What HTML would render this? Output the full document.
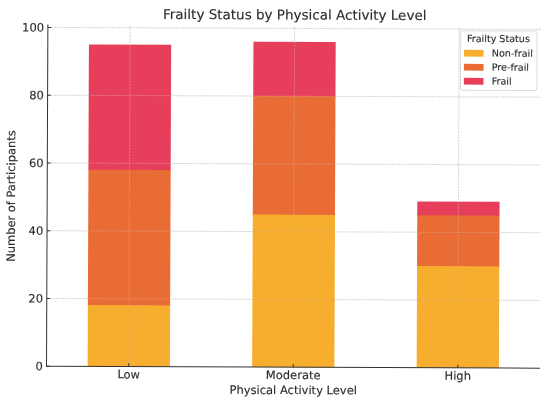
<!DOCTYPE html>
<html lang="en"><head><meta charset="utf-8"><title>Frailty Status by Physical Activity Level</title>
<style>html,body{margin:0;padding:0;background:#fff;overflow:hidden;}svg{display:block;}text{font-family:"DejaVu Sans","Liberation Sans",sans-serif;fill:#2c2c2c;stroke:#2c2c2c;stroke-width:0.14px;stroke-linejoin:round;}</style></head><body>
<svg width="550" height="402" viewBox="0 0 550 402">
<rect x="0" y="0" width="550" height="402" fill="#ffffff"/>
<g transform="rotate(0.230 275 201)">
<rect x="88.30" y="45.29" width="82.25" height="125.89" fill="#E63E5B"/>
<rect x="88.30" y="170.48" width="82.25" height="136.05" fill="#EA6C35"/>
<rect x="88.30" y="305.83" width="82.25" height="61.32" fill="#F7AE2F"/>
<rect x="252.81" y="41.73" width="82.25" height="55.08" fill="#E63E5B"/>
<rect x="252.81" y="96.11" width="82.25" height="119.28" fill="#EA6C35"/>
<rect x="252.81" y="214.69" width="82.25" height="152.46" fill="#F7AE2F"/>
<rect x="417.32" y="200.97" width="82.25" height="14.42" fill="#E63E5B"/>
<rect x="417.32" y="214.69" width="82.25" height="51.52" fill="#EA6C35"/>
<rect x="417.32" y="265.51" width="82.25" height="101.64" fill="#F7AE2F"/>
<g style="mix-blend-mode:luminosity">
<line x1="47.17" y1="299.39" x2="540.70" y2="299.39" stroke="#b4b4b4" stroke-width="0.75" stroke-dasharray="2.1 0.95" stroke-opacity="0.55"/>
<line x1="47.17" y1="231.63" x2="540.70" y2="231.63" stroke="#b4b4b4" stroke-width="0.75" stroke-dasharray="2.1 0.95" stroke-opacity="0.55"/>
<line x1="47.17" y1="163.87" x2="540.70" y2="163.87" stroke="#b4b4b4" stroke-width="0.75" stroke-dasharray="2.1 0.95" stroke-opacity="0.55"/>
<line x1="47.17" y1="96.11" x2="540.70" y2="96.11" stroke="#b4b4b4" stroke-width="0.75" stroke-dasharray="2.1 0.95" stroke-opacity="0.55"/>
<line x1="47.17" y1="28.35" x2="540.70" y2="28.35" stroke="#b4b4b4" stroke-width="0.75" stroke-dasharray="2.1 0.95" stroke-opacity="0.55"/>
<line x1="129.43" y1="367.15" x2="129.43" y2="25.40" stroke="#b4b4b4" stroke-width="0.75" stroke-dasharray="2.1 0.95" stroke-opacity="0.55"/>
<line x1="293.94" y1="367.15" x2="293.94" y2="25.40" stroke="#b4b4b4" stroke-width="0.75" stroke-dasharray="2.1 0.95" stroke-opacity="0.55"/>
<line x1="458.45" y1="367.15" x2="458.45" y2="25.40" stroke="#b4b4b4" stroke-width="0.75" stroke-dasharray="2.1 0.95" stroke-opacity="0.55"/>
</g>
<g>
<line x1="47.17" y1="299.39" x2="540.70" y2="299.39" stroke="#b4b4b4" stroke-width="0.75" stroke-dasharray="2.1 0.95" stroke-opacity="0.3"/>
<line x1="47.17" y1="231.63" x2="540.70" y2="231.63" stroke="#b4b4b4" stroke-width="0.75" stroke-dasharray="2.1 0.95" stroke-opacity="0.3"/>
<line x1="47.17" y1="163.87" x2="540.70" y2="163.87" stroke="#b4b4b4" stroke-width="0.75" stroke-dasharray="2.1 0.95" stroke-opacity="0.3"/>
<line x1="47.17" y1="96.11" x2="540.70" y2="96.11" stroke="#b4b4b4" stroke-width="0.75" stroke-dasharray="2.1 0.95" stroke-opacity="0.3"/>
<line x1="47.17" y1="28.35" x2="540.70" y2="28.35" stroke="#b4b4b4" stroke-width="0.75" stroke-dasharray="2.1 0.95" stroke-opacity="0.3"/>
<line x1="129.43" y1="367.15" x2="129.43" y2="25.40" stroke="#b4b4b4" stroke-width="0.75" stroke-dasharray="2.1 0.95" stroke-opacity="0.3"/>
<line x1="293.94" y1="367.15" x2="293.94" y2="25.40" stroke="#b4b4b4" stroke-width="0.75" stroke-dasharray="2.1 0.95" stroke-opacity="0.3"/>
<line x1="458.45" y1="367.15" x2="458.45" y2="25.40" stroke="#b4b4b4" stroke-width="0.75" stroke-dasharray="2.1 0.95" stroke-opacity="0.3"/>
</g>
<line x1="47.17" y1="25.40" x2="47.17" y2="367.65" stroke="#333333" stroke-width="1"/>
<line x1="46.67" y1="367.15" x2="540.70" y2="367.15" stroke="#333333" stroke-width="1"/>
<line x1="47.17" y1="367.15" x2="50.37" y2="367.15" stroke="#333333" stroke-width="1"/>
<text x="43.40" y="371.30" font-size="11.50" text-anchor="end">0</text>
<line x1="47.17" y1="299.39" x2="50.37" y2="299.39" stroke="#333333" stroke-width="1"/>
<text x="43.40" y="303.54" font-size="11.50" text-anchor="end">20</text>
<line x1="47.17" y1="231.63" x2="50.37" y2="231.63" stroke="#333333" stroke-width="1"/>
<text x="43.40" y="235.78" font-size="11.50" text-anchor="end">40</text>
<line x1="47.17" y1="163.87" x2="50.37" y2="163.87" stroke="#333333" stroke-width="1"/>
<text x="43.40" y="168.02" font-size="11.50" text-anchor="end">60</text>
<line x1="47.17" y1="96.11" x2="50.37" y2="96.11" stroke="#333333" stroke-width="1"/>
<text x="43.40" y="100.26" font-size="11.50" text-anchor="end">80</text>
<line x1="47.17" y1="28.35" x2="50.37" y2="28.35" stroke="#333333" stroke-width="1"/>
<text x="43.40" y="32.50" font-size="11.50" text-anchor="end">100</text>
<line x1="129.43" y1="367.15" x2="129.43" y2="363.95" stroke="#333333" stroke-width="1"/>
<text x="129.43" y="379.00" font-size="11.50" text-anchor="middle">Low</text>
<line x1="293.94" y1="367.15" x2="293.94" y2="363.95" stroke="#333333" stroke-width="1"/>
<text x="293.94" y="379.00" font-size="11.50" text-anchor="middle">Moderate</text>
<line x1="458.45" y1="367.15" x2="458.45" y2="363.95" stroke="#333333" stroke-width="1"/>
<text x="458.45" y="379.00" font-size="11.50" text-anchor="middle">High</text>
<text x="294.00" y="394.00" font-size="11.50" text-anchor="middle">Physical Activity Level</text>
<text transform="translate(15.00 197.10) rotate(-90)" font-size="11.45" text-anchor="middle">Number of Participants</text>
<text x="294.00" y="19.40" font-size="13.5" text-anchor="middle">Frailty Status by Physical Activity Level</text>
<rect x="460.0" y="30.1" width="76.4" height="59.4" rx="2" ry="2" fill="#ffffff" fill-opacity="0.8" stroke="#cccccc" stroke-opacity="0.8" stroke-width="0.9"/>
<text x="497.8" y="41.1" font-size="9.6" text-anchor="middle">Frailty Status</text>
<rect x="463.4" y="49.10" width="19.6" height="6.7" fill="#F7AE2F"/>
<text x="491.2" y="55.70" font-size="9.6">Non-frail</text>
<rect x="463.4" y="63.10" width="19.6" height="6.7" fill="#EA6C35"/>
<text x="491.2" y="69.70" font-size="9.6">Pre-frail</text>
<rect x="463.4" y="77.10" width="19.6" height="6.7" fill="#E63E5B"/>
<text x="491.2" y="83.70" font-size="9.6">Frail</text>
</g>
</svg></body></html>
